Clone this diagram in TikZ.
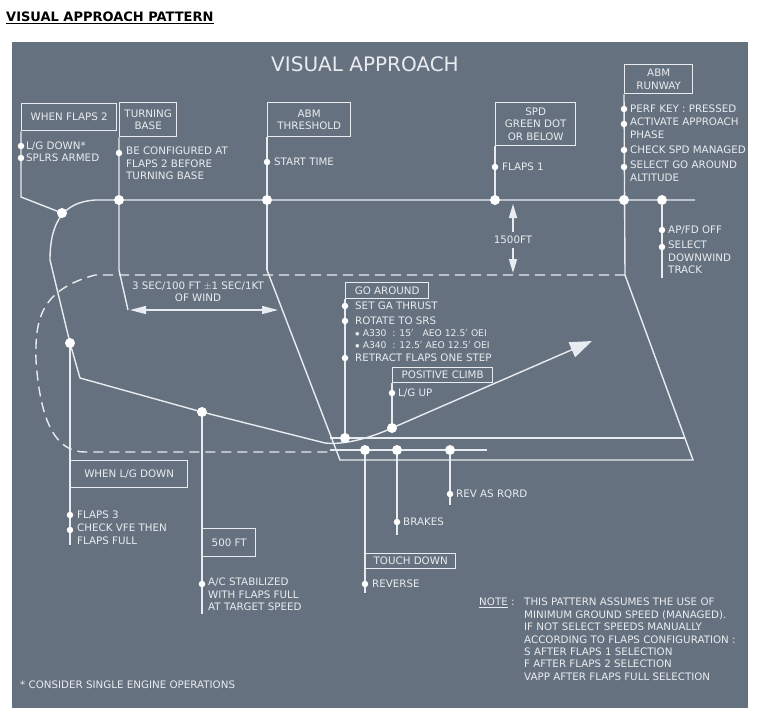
\documentclass[tikz,border=0pt]{standalone}
\usepackage{fontspec}
\setmainfont{DejaVu Sans}
\usetikzlibrary{arrows.meta}
\definecolor{panel}{HTML}{66717F}
\definecolor{ln}{HTML}{E8ECF0}
\begin{document}
\begin{tikzpicture}[x=1pt,y=-1pt,
  every node/.style={text=ln,font=\fontsize{10.3}{12.4}\selectfont,inner sep=0pt},
  wl/.style={draw=ln,line width=1.4pt},
  bx/.style={draw=ln,line width=1.4pt,align=center,inner sep=2pt},
  big/.style={fill=white,circle,minimum size=10pt},
  sm/.style={fill=white,circle,minimum size=6.5pt},
  tx/.style={anchor=west,align=left},
  dsh/.style={draw=ln,line width=1.4pt,dash pattern=on 10pt off 6pt}]
\useasboundingbox (0,0) rectangle (768,724);
\fill[white] (0,0) rectangle (768,724);
\node[text=black,font=\bfseries\fontsize{13}{15}\selectfont,anchor=west] (ttl) at (6,18) {\underline{VISUAL APPROACH PATTERN}};
\fill[panel] (12,42) rectangle (748,708);
\node[font=\fontsize{20}{24}\selectfont] (vt) at (365,64) {VISUAL APPROACH};

% runway
\draw[wl] (330,438) -- (685,438);
\draw[wl] (267,270) -- (340,460) -- (693,460) -- (625,275);
% dashed pattern
\draw[dsh] (625,275) -- (95,275) .. controls (40,290) and (35,320) .. (36,360) .. controls (40,420) and (55,452) .. (85,452) -- (330,452);
\draw[wl] (330,450) -- (487,450);
% downwind and approach
\draw[wl] (695,200) -- (95,200) .. controls (65,202) and (50,220) .. (50,260) -- (70,343) -- (80,378) -- (202,412) -- (325,443) .. controls (345,445) and (370,438) .. (392,428);
\draw[wl,-{Triangle[length=22pt,width=16pt]}] (392,428) -- (592,341);

% when flaps 2
\node[bx,minimum width=95pt,minimum height=27pt,anchor=north west] (wf2) at (21,103) {WHEN FLAPS 2};
\draw[wl] (wf2.south west) -- (21,197) -- (62,213);
\node[big] (d1) at (62,213) {};
\node[sm] (b1) at (21,146) {}; \node[tx] (t1) at (26,146) {L/G DOWN*};
\node[sm] (b2) at (21,158) {}; \node[tx] (t2) at (26,158) {SPLRS ARMED};
% turning base
\node[bx,minimum width=57pt,minimum height=34pt,anchor=north west] (tb) at (119,102) {TURNING\\BASE};
\draw[wl] (tb.south west) -- (119,270) -- (128,310);
\node[big] (d2) at (119,200) {};
\node[sm] (b3) at (119,153) {}; \node[tx,anchor=north west] (t3) at (126,147) {BE CONFIGURED AT\\FLAPS 2 BEFORE\\TURNING BASE};
\coordinate (aL) at (130,310); \coordinate (aR) at (278,310);
\draw[wl,{Triangle[length=16pt,width=8pt]}-{Triangle[length=16pt,width=8pt]}] (aL) -- (aR);
\node[align=center] (wind) at (198,292) {3 SEC/100 FT $\pm$1 SEC/1KT\\OF WIND};
% abm threshold
\node[bx,minimum width=83pt,minimum height=34pt,anchor=north west] (th) at (267,102) {ABM\\THRESHOLD};
\draw[wl] (th.south west) -- (267,270);
\node[big] (d3) at (267,200) {};
\node[sm] (b4) at (267,162) {}; \node[tx] (t4) at (274,162) {START TIME};
% spd
\node[bx,minimum width=80pt,minimum height=43pt,anchor=north west] (spd) at (495,102) {SPD\\GREEN DOT\\OR BELOW};
\draw[wl] (spd.south west) -- (495,200);
\node[big] (d4) at (495,200) {};
\node[sm] (b5) at (495,167) {}; \node[tx] (t5) at (502,167) {FLAPS 1};
% abm runway
\node[bx,minimum width=68pt,minimum height=29pt,anchor=north west] (rw) at (624,64) {ABM\\RUNWAY};
\draw[wl] (rw.south west) -- (625,275);
\node[big] (d5) at (624,200) {};
\node[sm] (b6) at (624,109) {}; \node[tx] (t6) at (630,109) {PERF KEY : PRESSED};
\node[sm] (b7) at (624,124) {}; \node[tx,anchor=north west] (t7) at (630,118) {ACTIVATE APPROACH\\PHASE};
\node[sm] (b8) at (624,150) {}; \node[tx] (t8) at (630,150) {CHECK SPD MANAGED};
\node[sm] (b9) at (624,167) {}; \node[tx,anchor=north west] (t9) at (630,161) {SELECT GO AROUND\\ALTITUDE};
% ap/fd
\node[big] (d6) at (662,200) {};
\draw[wl] (d6) -- (662,278);
\node[sm] (b10) at (662,230) {}; \node[tx] (t10) at (668,230) {AP/FD OFF};
\node[sm] (b11) at (662,247) {}; \node[tx,anchor=north west] (t11) at (668,241) {SELECT\\DOWNWIND\\TRACK};
% 1500ft
\node (ft) at (513,240) {1500FT};
\coordinate (fu) at (513,204); \coordinate (fd) at (513,273);
\draw[wl,-{Triangle[length=14pt,width=8pt]}] (ft.north) ++(0,-4) -- (fu);
\draw[wl,-{Triangle[length=14pt,width=8pt]}] (ft.south) ++(0,4) -- (fd);
% go around
\node[bx,minimum width=83pt,minimum height=16pt,anchor=north west] (ga) at (345,282) {GO AROUND};
\draw[wl] (ga.south west) -- (345,438);
\node[big] (d7) at (345,438) {};
\node[sm] (b12) at (345,306) {}; \node[tx] (t12) at (355,306) {SET GA THRUST};
\node[sm] (b13) at (345,321) {}; \node[tx] (t13) at (355,321) {ROTATE TO SRS};
\node[tx,font=\fontsize{9.2}{10}\selectfont] (t14) at (355,333) {$\bullet$ A330 \ : 15$'$ \ \ AEO 12.5$'$ OEI};
\node[tx,font=\fontsize{9.2}{10}\selectfont] (t15) at (355,345) {$\bullet$ A340 \ : 12.5$'$ AEO 12.5$'$ OEI};
\node[sm] (b16) at (345,358) {}; \node[tx] (t16) at (355,358) {RETRACT FLAPS ONE STEP};
% positive climb
\node[bx,minimum width=100pt,minimum height=15pt,anchor=north west] (pc) at (392,367) {POSITIVE CLIMB};
\draw[wl] (pc.south west) -- (392,428);
\node[big] (d8) at (392,428) {};
\node[sm] (b17) at (392,393) {}; \node[tx] (t17) at (398,393) {L/G UP};
% when lg down
\node[big] (d9) at (70,343) {};
\draw[wl] (d9) -- (70,545);
\node[bx,minimum width=117pt,minimum height=27pt,anchor=north west] (lg) at (70,460) {WHEN L/G DOWN};
\node[sm] (b18) at (70,515) {}; \node[tx] (t18) at (77,515) {FLAPS 3};
\node[sm] (b19) at (70,530) {}; \node[tx,anchor=north west] (t19) at (77,524) {CHECK VFE THEN\\FLAPS FULL};
% 500 ft
\node[big] (d10) at (202,412) {};
\draw[wl] (d10) -- (202,614);
\node[bx,minimum width=53pt,minimum height=28pt,anchor=north west] (f5) at (202,528) {500 FT};
\node[sm] (b20) at (202,584) {}; \node[tx,anchor=north west] (t20) at (208,578) {A/C STABILIZED\\WITH FLAPS FULL\\AT TARGET SPEED};
% touchdown
\node[big] (d11) at (365,450) {};
\draw[wl] (d11) -- (365,593);
\node[bx,minimum width=90pt,minimum height=15pt,anchor=north west] (td) at (365,553) {TOUCH DOWN};
\node[sm] (b21) at (365,584) {}; \node[tx] (t21) at (372,584) {REVERSE};
\node[big] (d12) at (397,450) {};
\draw[wl] (d12) -- (397,535);
\node[sm] (b22) at (397,522) {}; \node[tx] (t22) at (403,522) {BRAKES};
\node[big] (d13) at (450,450) {};
\draw[wl] (d13) -- (450,505);
\node[sm] (b23) at (450,494) {}; \node[tx] (t23) at (456,494) {REV AS RQRD};
% note
\node[tx,anchor=north west] (nl) at (479,598) {\underline{NOTE} :};
\node[tx,anchor=north west] (nt) at (524,598) {THIS PATTERN ASSUMES THE USE OF\\MINIMUM GROUND SPEED (MANAGED).\\IF NOT SELECT SPEEDS MANUALLY\\ACCORDING TO FLAPS CONFIGURATION :\\S AFTER FLAPS 1 SELECTION\\F AFTER FLAPS 2 SELECTION\\VAPP AFTER FLAPS FULL SELECTION};
\node[tx] (fn) at (20,685) {* CONSIDER SINGLE ENGINE OPERATIONS};
\end{tikzpicture}
\end{document}
